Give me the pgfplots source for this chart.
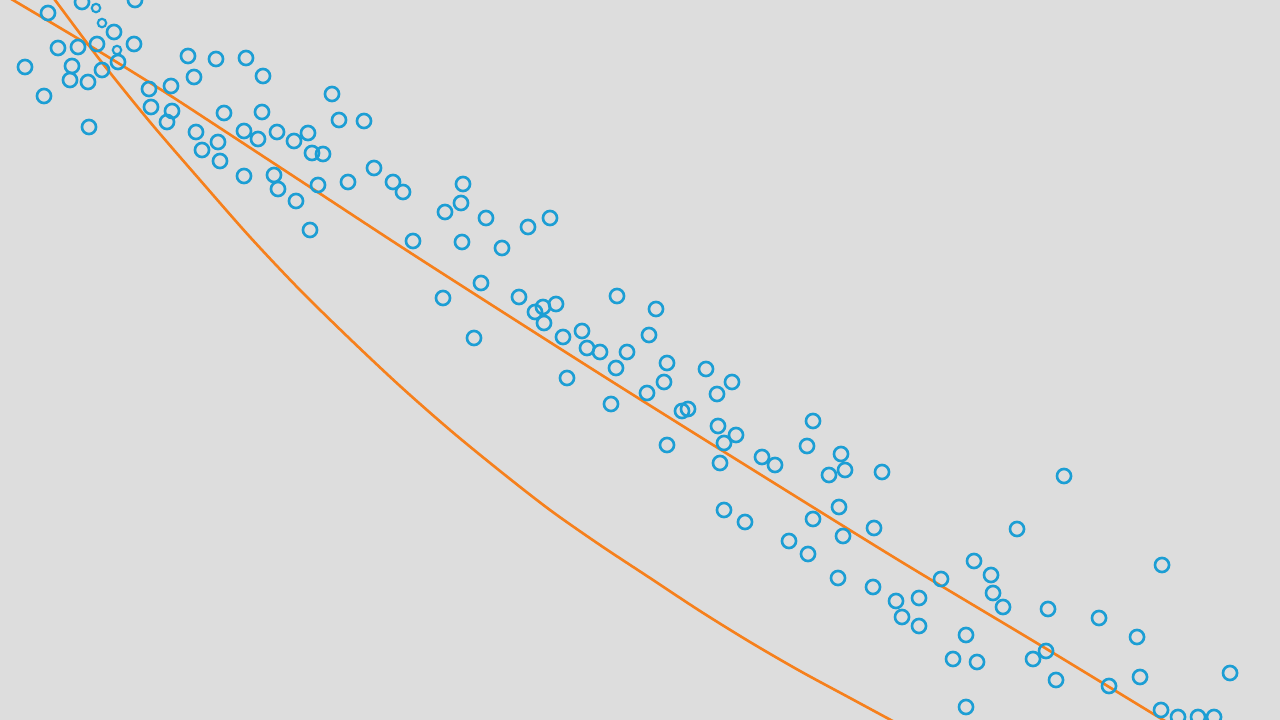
\documentclass[border=0pt]{standalone}
\usepackage{pgfplots}
\pgfplotsset{compat=1.18}
\definecolor{bg}{RGB}{221,221,221}
\definecolor{ptblue}{RGB}{28,158,212}
\definecolor{lorange}{RGB}{246,128,28}
\begin{document}
\begin{tikzpicture}
\begin{axis}[
  width=12.8cm, height=7.2cm, scale only axis,
  xmin=0, xmax=1280, ymin=0, ymax=720, y dir=reverse,
  axis lines=none, ticks=none,
  axis background/.style={fill=bg},
  clip=true,
]
\addplot[lorange, line width=0.75pt, smooth] coordinates {
 (-5,-11) (13,0) (87,44) (160,89) (220,128) (313,189) (420,259) (600,374) (750,468) (900,561) (1040,645) (1160,718) (1180,730)};
\addplot[lorange, line width=0.75pt, smooth] coordinates {
 (40,-20) (55,0) (100,60) (150,122) (200,180) (250,237) (300,290) (350,339) (400,386) (450,430) (500,471) (550,510) (600,545) (650,578) (700,611) (750,642) (800,671) (850,698) (900,725)};
\addplot[only marks, mark=o, mark size=2pt, mark options={ptblue, line width=0.75pt}] table {
x y
48 13
82 2
135 0
114 32
134 44
58 48
78 47
97 44
25 67
72 66
102 70
118 62
70 80
88 82
44 96
89 127
188 56
216 59
246 58
263 76
194 77
149 89
171 86
151 107
172 111
167 122
196 132
202 150
218 142
220 161
244 176
224 113
262 112
244 131
258 139
277 132
294 141
308 133
312 153
323 154
274 175
278 189
296 201
310 230
318 185
332 94
339 120
364 121
348 182
374 168
393 182
403 192
413 241
463 184
461 203
445 212
486 218
528 227
550 218
462 242
502 248
481 283
443 298
519 297
474 338
535 312
543 307
556 304
544 323
563 337
582 331
587 348
600 352
617 296
656 309
649 335
627 352
616 368
567 378
611 404
667 363
664 382
647 393
706 369
732 382
717 394
682 411
688 409
718 426
736 435
724 443
667 445
720 463
762 457
775 465
813 421
807 446
841 454
845 470
829 475
882 472
1064 476
724 510
745 522
839 507
813 519
843 536
874 528
1017 529
789 541
808 554
974 561
991 575
941 579
1162 565
838 578
873 587
993 593
1003 607
896 601
919 598
902 617
919 626
1048 609
1099 618
1137 637
966 635
1046 651
1033 659
953 659
977 662
1056 680
1109 686
1140 677
1230 673
966 707
1161 710
1178 717
1198 717
1214 717
1070 722
};
\addplot[only marks, mark=o, mark size=1.2pt, mark options={ptblue, line width=0.6pt}] table {
x y
96 8
102 23
117 50
};
\end{axis}
\pgfresetboundingbox
\path (0,0) rectangle (12.8cm,7.2cm);
\end{tikzpicture}
\end{document}
